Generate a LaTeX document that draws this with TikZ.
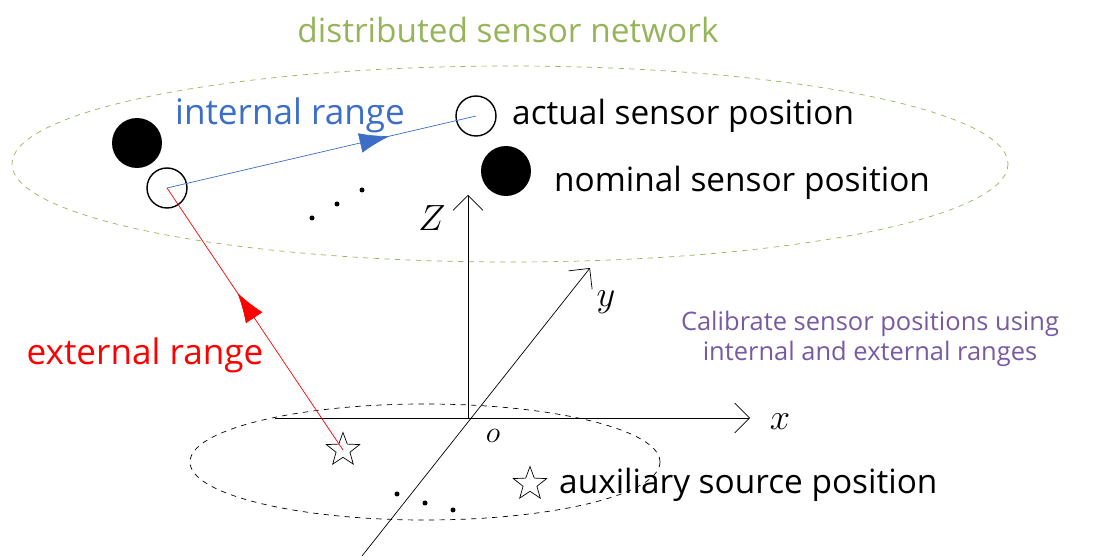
\documentclass[tikz,border=0pt]{standalone}
\usepackage{fontspec}
\setmainfont{Open Sans}
\usetikzlibrary{arrows.meta,decorations.markings,shapes.geometric}
\definecolor{grn}{RGB}{150,180,90}
\definecolor{blu}{RGB}{60,110,200}
\definecolor{purp}{RGB}{120,90,160}
\tikzset{
  P/.style={x=0.02cm,y=-0.02cm},
  opencirc/.style={circle,draw,thick,minimum size=0.8cm,inner sep=0},
  filledcirc/.style={circle,fill=black,minimum size=1cm,inner sep=0},
  starnode/.style={star,star points=5,star point ratio=2.4,draw,minimum size=0.7cm,inner sep=0},
  lbl/.style={font=\fontsize{19}{21}\selectfont,anchor=west},
  midarrow/.style={postaction={decorate},decoration={markings,mark=at position #1 with {\arrow{Latex[length=6mm,width=4mm]}}}},
  axis/.style={-{Straight Barb[length=3mm]},thin}
}
\begin{document}
\begin{tikzpicture}[P]
\useasboundingbox (0,0) rectangle (1100,560);
\node[grn,font=\fontsize{19}{21}\selectfont] (title) at (508,30) {distributed sensor network};
\draw[grn,dashed] (510,164) ellipse [x radius=498, y radius=98];
\draw[dashed] (425,462) ellipse [x radius=235, y radius=58];
% axes
\coordinate (O) at (468,418);
\coordinate (ztop) at (468,195);
\coordinate (xl) at (275,418);
\coordinate (xr) at (750,418);
\coordinate (yb) at (362,556);
\coordinate (yt) at (590,268);
\draw[axis] (O) -- (ztop);
\draw[axis] (xl) -- (xr);
\draw[axis] (yb) -- (yt);
\node[font=\fontsize{20}{22}\selectfont] (zl) at (432,218) {$Z$};
\node[font=\fontsize{20}{22}\selectfont] (xlab) at (780,422) {$x$};
\node[font=\fontsize{22}{24}\selectfont] (ylab) at (606,302) {$y$};
\node[font=\fontsize{16}{18}\selectfont] (ol) at (493,436) {$o$};
% sensors
\node[filledcirc] (n1) at (137,143) {};
\node[filledcirc] (n2) at (506,171) {};
\node[opencirc] (a1) at (476,116) {};
\node[opencirc] (a2) at (167,188) {};
\draw[blu,midarrow=0.72] (a2.center) -- (a1.center);
\node[blu,font=\fontsize{20}{22}\selectfont] (ir) at (290,115) {internal range};
\node[lbl] (asp) at (506,116) {actual sensor position};
\node[lbl] (nsp) at (548,183) {nominal sensor position};
\foreach \p in {(312,218),(337,204),(362,190)} \fill \p circle (2.5);
% sources
\node[starnode] (s1) at (343,450) {};
\node[starnode] (s2) at (530,484) {};
\node[lbl] (aux) at (553,485) {auxiliary source position};
\foreach \p in {(397,494),(425,503),(453,510)} \fill \p circle (2.5);
\draw[red,midarrow=0.6] (s1.center) -- (a2.center);
\node[red,font=\fontsize{20}{22}\selectfont] (er) at (145,355) {external range};
\node[purp,font=\fontsize{14.5}{17}\selectfont,align=center] (cal) at (870,339) {Calibrate sensor positions using\\internal and external ranges};
\end{tikzpicture}
\end{document}
